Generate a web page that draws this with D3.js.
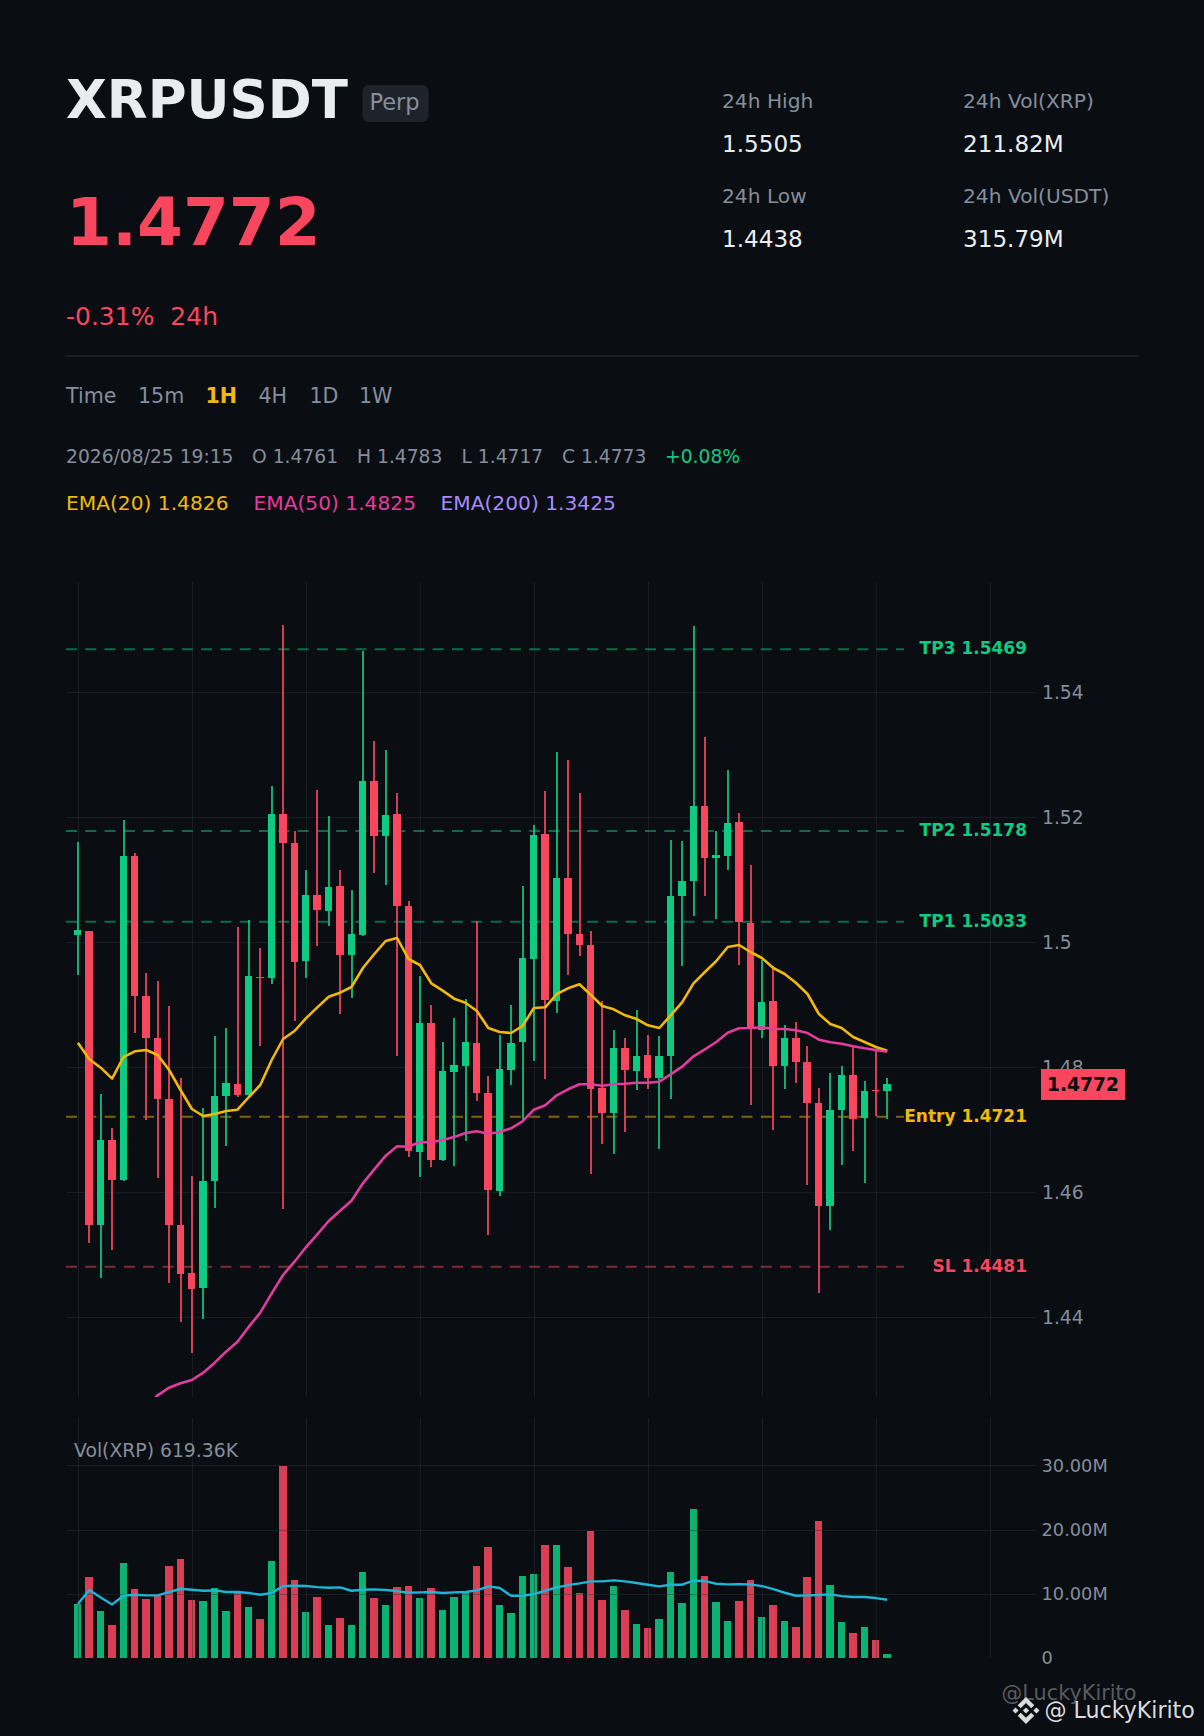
<!doctype html>
<html lang="en">

<head>
    <meta charset="utf-8" />
    <title>XRPUSDT</title>
    <script src="https://d3js.org/d3.v7.min.js"></script>
    <style>
        html, body { margin: 0; padding: 0; background: #0a0d11; }
        svg { display: block; }
        text { font-family: "DejaVu Sans", sans-serif; }
    </style>
</head>

<body>
    <div id="graph-container"></div>
    <script>
        const open = [1.50117, 1.50181, 1.45477, 1.46837, 1.46197, 1.51381, 1.49141, 1.48469, 1.47493, 1.45477,
            1.44709, 1.44469, 1.46181, 1.47541, 1.47733, 1.47557, 1.49445, 1.49429, 1.52053, 1.51589,
            1.49701, 1.50757, 1.50501, 1.50901, 1.49797, 1.50117, 1.52581, 1.51701, 1.52053, 1.50581,
            1.46645, 1.48709, 1.46517, 1.47925, 1.48021, 1.48389, 1.47589, 1.46021, 1.47957, 1.48405,
            1.49733, 1.51733, 1.49061, 1.51029, 1.50133, 1.49957, 1.47669, 1.47269, 1.48309, 1.47941,
            1.48197, 1.47829, 1.48181, 1.50741, 1.50981, 1.52181, 1.51349, 1.51381, 1.51925, 1.50309,
            1.48597, 1.49061, 1.48021, 1.48469, 1.48085, 1.47429, 1.45781, 1.47317, 1.47877, 1.47189,
            1.47632, 1.47621]
        const high = [1.51605, 1.50181, 1.47573, 1.47029, 1.51957, 1.51429, 1.49509, 1.49381, 1.48981, 1.47829,
            1.46261, 1.47349, 1.48501, 1.48629, 1.50245, 1.50357, 1.49909, 1.52501, 1.55077, 1.51781,
            1.51157, 1.52437, 1.52021, 1.51157, 1.50837, 1.54661, 1.53221, 1.53077, 1.52389, 1.50661,
            1.49461, 1.48997, 1.48405, 1.48789, 1.49093, 1.50341, 1.47861, 1.48517, 1.48997, 1.50901,
            1.51877, 1.52421, 1.53045, 1.52917, 1.52389, 1.50181, 1.49061, 1.48597, 1.48469, 1.48917,
            1.48517, 1.48501, 1.51637, 1.51621, 1.55061, 1.53285, 1.51781, 1.52757, 1.52069, 1.51237,
            1.49717, 1.49621, 1.48677, 1.48725, 1.48341, 1.47669, 1.47909, 1.48021, 1.48341, 1.47781,
            1.48261, 1.47829]
        const low = [1.49477, 1.45189, 1.44629, 1.45077, 1.46181, 1.48549, 1.47157, 1.46229, 1.44549, 1.43925,
            1.43429, 1.43973, 1.45749, 1.46741, 1.47525, 1.47557, 1.48341, 1.49333, 1.45733, 1.48741,
            1.49429, 1.49941, 1.50261, 1.48853, 1.49109, 1.50101, 1.51109, 1.50917, 1.48181, 1.46565,
            1.46245, 1.46405, 1.46501, 1.46421, 1.46821, 1.47461, 1.45317, 1.45941, 1.47717, 1.47157,
            1.48101, 1.47813, 1.48869, 1.49477, 1.49781, 1.46293, 1.46773, 1.46613, 1.46965, 1.47637,
            1.47653, 1.46693, 1.47493, 1.49621, 1.50421, 1.50741, 1.50373, 1.51157, 1.49637, 1.47397,
            1.48469, 1.47000, 1.47653, 1.47749, 1.46117, 1.44389, 1.45397, 1.46437, 1.46661, 1.46149,
            1.47221, 1.47173]
        const close = [1.50197, 1.45477, 1.46837, 1.46197, 1.51381, 1.49141, 1.48469, 1.47493, 1.45477, 1.44693,
            1.44453, 1.46181, 1.47541, 1.47749, 1.47557, 1.49461, 1.49437, 1.52053, 1.51589, 1.49685,
            1.50757, 1.50517, 1.50885, 1.49797, 1.50133, 1.52581, 1.51701, 1.52037, 1.50581, 1.46661,
            1.48709, 1.46517, 1.47941, 1.48037, 1.48405, 1.47589, 1.46037, 1.47973, 1.48389, 1.49749,
            1.51717, 1.49077, 1.51029, 1.50133, 1.49957, 1.47653, 1.47269, 1.48309, 1.47957, 1.48181,
            1.47829, 1.48181, 1.50741, 1.50981, 1.52181, 1.51349, 1.51397, 1.51909, 1.50325, 1.48629,
            1.49045, 1.48021, 1.48469, 1.48085, 1.47429, 1.45781, 1.47317, 1.47877, 1.47173, 1.47621,
            1.47621, 1.47733]
        const ema20 = [1.48394, 1.48128, 1.47994, 1.47818, 1.48165, 1.48256, 1.48277, 1.48197, 1.47957, 1.47637,
            1.47333, 1.47221, 1.47253, 1.47301, 1.47322, 1.47525, 1.47717, 1.48117, 1.48453, 1.48581,
            1.48784, 1.48960, 1.49130, 1.49194, 1.49285, 1.49589, 1.49813, 1.50021, 1.50069, 1.49733,
            1.49637, 1.49344, 1.49226, 1.49098, 1.49034, 1.48901, 1.48629, 1.48565, 1.48549, 1.48661,
            1.48949, 1.48960, 1.49173, 1.49264, 1.49328, 1.49157, 1.48981, 1.48928, 1.48832, 1.48773,
            1.48672, 1.48629, 1.48832, 1.49040, 1.49344, 1.49525, 1.49701, 1.49925, 1.49957, 1.49845,
            1.49749, 1.49589, 1.49493, 1.49349, 1.49173, 1.48853, 1.48693, 1.48629, 1.48485, 1.48405,
            1.48325, 1.48266]
        // first candles of the EMA(50) are under the visible range
        const ema50 = [null, null, null, null, null, null, 1.42581, 1.42752, 1.42874, 1.42944,
            1.42997, 1.43114, 1.43274, 1.43450, 1.43610, 1.43850, 1.44074, 1.44384, 1.44677, 1.44890,
            1.45120, 1.45328, 1.45541, 1.45706, 1.45866, 1.46144, 1.46368, 1.46586, 1.46736, 1.46730,
            1.46805, 1.46800, 1.46837, 1.46885, 1.46949, 1.46976, 1.46938, 1.46965, 1.47024, 1.47136,
            1.47322, 1.47392, 1.47552, 1.47648, 1.47728, 1.47728, 1.47706, 1.47728, 1.47738, 1.47754,
            1.47754, 1.47770, 1.47888, 1.48010, 1.48176, 1.48288, 1.48405, 1.48554, 1.48624, 1.48629,
            1.48640, 1.48618, 1.48613, 1.48592, 1.48549, 1.48442, 1.48400, 1.48378, 1.48336, 1.48304,
            1.48277, 1.48250]
        const volume = [8.4, 12.6, 7.3, 5.1, 14.8, 10.7, 9.2, 9.65, 14.3, 15.4,
            9.0, 8.9, 10.9, 7.3, 10.3, 7.9, 6.1, 15.1, 29.9, 12.1,
            7.2, 9.5, 5.1, 6.2, 5.1, 13.4, 9.3, 8.25, 11.05, 11.2,
            9.3, 10.9, 7.5, 9.5, 10.3, 14.3, 17.3, 8.25, 7.0, 12.8,
            13.1, 17.6, 17.6, 14.2, 10.1, 19.8, 9.0, 11.2, 7.5, 5.3,
            4.7, 6.1, 13.4, 8.6, 23.2, 12.8, 8.7, 5.8, 8.9, 12.1,
            6.4, 8.25, 5.8, 4.8, 12.6, 21.3, 11.4, 5.6, 3.9, 4.8,
            2.8, 0.62]
        const volumeMa = [8.41, 10.59, 9.44, 8.35, 9.70, 9.86, 9.76, 9.76, 10.28, 10.79,
            10.64, 10.48, 10.53, 10.28, 10.28, 10.12, 9.86, 10.12, 11.21, 11.26,
            11.21, 11.05, 10.95, 11.00, 10.48, 10.64, 10.69, 10.59, 10.43, 10.17,
            10.22, 10.28, 10.12, 10.22, 10.28, 10.53, 11.16, 10.90, 9.70, 9.70,
            9.96, 10.48, 11.00, 11.36, 11.62, 11.94, 11.94, 12.09, 11.94, 11.68,
            11.42, 11.16, 11.42, 11.42, 12.04, 11.99, 11.57, 11.47, 11.52, 11.47,
            11.21, 10.74, 10.17, 9.70, 9.76, 9.81, 9.91, 9.65, 9.50, 9.50,
            9.34, 9.08]

        const priceTicks = [1.54, 1.52, 1.5, 1.48, 1.46, 1.44]
        const volumeTicks = [0, 10, 20, 30]
        const xGridCandles = [0, 10, 20, 30, 40, 50, 60, 70, 80]

        const levelNames = ["TP3", "TP2", "TP1", "Entry", "SL"]
        const levelPrices = [1.5469, 1.5178, 1.5033, 1.4721, 1.4481]
        const lastPrice = 1.4772

        const GREEN = "#0ecb81"
        const RED = "#f8465e"
        const GOLD = "#f0b90b"
        const PINK = "#e23d9d"
        const PURPLE = "#a78bfa"
        const CYAN = "#1fb5d6"
        const MUTED = "#848e9c"
        const BRIGHT = "#eaecef"
        const levelColors = [GREEN, GREEN, GREEN, GOLD, RED]

        const svg = d3.select("#graph-container")
            .append("svg")
            .attr("width", 1204)
            .attr("height", 1736)

        svg.append("rect").attr("width", 1204).attr("height", 1736).attr("fill", "#0a0d11")

        function label(txt, x, y, size, color, weight, anchor) {
            return svg.append("text")
                .attr("x", x)
                .attr("y", y)
                .attr("font-size", size)
                .attr("font-weight", weight || "normal")
                .attr("text-anchor", anchor || "start")
                .attr("fill", color)
                .text(txt)
        }

        // header
        label("XRPUSDT", 66, 118, 53, BRIGHT, "bold")
        svg.append("rect").attr("x", 362.5).attr("y", 85).attr("width", 66).attr("height", 37)
            .attr("rx", 6).attr("fill", "#1e2229")
        label("Perp", 369.5, 109.5, 22.5, MUTED)
        label("1.4772", 66, 245, 66, RED, "bold")
        label("-0.31%  24h", 66, 325, 25, RED).style("white-space", "pre")

        label("24h High", 722, 107.5, 20.2, MUTED)
        label("1.5505", 722, 151.5, 23.1, BRIGHT)
        label("24h Low", 722, 203, 20.2, MUTED)
        label("1.4438", 722, 246.5, 23.1, BRIGHT)
        label("24h Vol(XRP)", 963, 107.5, 20.2, MUTED)
        label("211.82M", 963, 151.5, 23.1, BRIGHT)
        label("24h Vol(USDT)", 963, 203, 20.2, MUTED)
        label("315.79M", 963, 246.5, 23.1, BRIGHT)

        svg.append("line").attr("x1", 66).attr("x2", 1139).attr("y1", 356).attr("y2", 356)
            .attr("stroke", "#1f242c").attr("stroke-width", 1.5)

        label("Time", 66, 403, 20.6, MUTED)
        label("15m", 138, 403, 20.6, MUTED)
        label("1H", 205.5, 403, 20.6, GOLD, "bold")
        label("4H", 258.5, 403, 20.6, MUTED)
        label("1D", 309.5, 403, 20.6, MUTED)
        label("1W", 359, 403, 20.6, MUTED)

        label("2026/08/25 19:15", 66, 463, 18.7, MUTED)
        label("O 1.4761", 252, 463, 18.7, MUTED)
        label("H 1.4783", 357, 463, 18.7, MUTED)
        label("L 1.4717", 461.5, 463, 18.7, MUTED)
        label("C 1.4773", 562, 463, 18.7, MUTED)
        label("+0.08%", 665, 463, 18.7, GREEN)

        label("EMA(20) 1.4826", 66, 510, 20.2, GOLD)
        label("EMA(50) 1.4825", 253.5, 510, 20.2, PINK)
        label("EMA(200) 1.3425", 440.5, 510, 20.2, PURPLE)

        // scales
        const x = d3.scaleLinear().domain([-1, 84]).range([66.5, 1035.5])
        const y = d3.scaleLinear().domain([1.42725, 1.55765]).range([1397, 582])
        const yVol = d3.scaleLinear().domain([0, 37.4]).range([1658, 1418])

        const candles = d3.range(open.length)

        svg.append("clipPath").attr("id", "plot")
            .append("rect").attr("x", 66.5).attr("y", 582).attr("width", 969).attr("height", 815)

        function crisp(v) { return Math.round(v) + 0.5 }

        function grid(parent, scale, ticks, top, bottom, stroke, opacity) {
            const g = parent.append("g").attr("stroke", stroke).attr("stroke-opacity", opacity)
            g.selectAll("line.h").data(ticks).enter().append("line")
                .attr("x1", 66.5).attr("x2", 1035.5)
                .attr("y1", d => crisp(scale(d))).attr("y2", d => crisp(scale(d)))
            g.selectAll("line.v").data(xGridCandles).enter().append("line")
                .attr("x1", d => crisp(x(d))).attr("x2", d => crisp(x(d)))
                .attr("y1", top).attr("y2", bottom)
        }

        // price pane
        grid(svg, y, priceTicks, 582, 1397, "#2b3139", 0.45)

        const levels = svg.append("g")
        levels.selectAll("line").data(levelPrices).enter().append("line")
            .attr("x1", 66).attr("x2", 904)
            .attr("y1", d => y(d)).attr("y2", d => y(d))
            .attr("stroke", (d, i) => levelColors[i])
            .attr("stroke-width", 2)
            .attr("stroke-opacity", 0.5)
            .attr("stroke-dasharray", "11 8.3")
        levels.selectAll("text").data(levelPrices).enter().append("text")
            .attr("x", 1027)
            .attr("y", d => y(d) + 5)
            .attr("text-anchor", "end")
            .attr("font-size", 17)
            .attr("font-weight", "bold")
            .attr("fill", (d, i) => levelColors[i])
            .text((d, i) => levelNames[i] + " " + d.toFixed(4))

        const candleColor = i => close[i] >= open[i] ? GREEN : RED

        const marks = svg.append("g").attr("shape-rendering", "crispEdges")
        marks.selectAll("rect.wick").data(candles).enter().append("rect")
            .attr("class", "wick")
            .attr("x", i => Math.round(x(i) - 1))
            .attr("width", 2)
            .attr("y", i => Math.round(y(high[i])))
            .attr("height", i => Math.round(y(low[i])) - Math.round(y(high[i])))
            .attr("fill", candleColor)
            .attr("fill-opacity", 0.85)
        marks.selectAll("rect.body").data(candles).enter().append("rect")
            .attr("class", "body")
            .attr("x", i => Math.floor(x(i) - 3.5))
            .attr("width", i => Math.round(x(i) + 3.5) - Math.floor(x(i) - 3.5))
            .attr("y", i => Math.round(y(Math.max(open[i], close[i]))))
            .attr("height", i => Math.max(1, Math.round(y(Math.min(open[i], close[i]))) - Math.round(y(Math.max(open[i], close[i])))))
            .attr("fill", candleColor)

        const priceLine = d3.line()
            .defined(d => d !== null)
            .x((d, i) => x(i))
            .y(d => y(d))

        const emas = svg.append("g").attr("clip-path", "url(#plot)").attr("fill", "none")
            .attr("stroke-width", 2.6).attr("stroke-linejoin", "round")
        emas.append("path").attr("d", priceLine(ema20)).attr("stroke", GOLD)
        emas.append("path").attr("d", priceLine(ema50)).attr("stroke", PINK)

        const priceAxis = d3.axisRight(y)
            .tickValues(priceTicks)
            .tickFormat(d => String(+d.toFixed(2)))
            .tickSize(0)
            .tickPadding(0)
        const priceAxisG = svg.append("g").attr("transform", "translate(1042,0)").call(priceAxis)
        priceAxisG.select(".domain").remove()
        priceAxisG.selectAll("text")
            .attr("font-size", 18.7)
            .attr("font-family", "DejaVu Sans")
            .attr("fill", MUTED)

        // last price tag
        svg.append("rect").attr("x", 1041).attr("y", 1069).attr("width", 84).attr("height", 31).attr("fill", RED)
        label(lastPrice.toFixed(4), 1083, y(lastPrice) + 6, 18.6, "#0b0e11", "bold", "middle")

        // volume pane
        svg.append("g").selectAll("rect").data(candles).enter().append("rect")
            .attr("shape-rendering", "crispEdges")
            .attr("x", i => Math.floor(x(i) - 3.5))
            .attr("width", i => Math.round(x(i) + 3.5) - Math.floor(x(i) - 3.5))
            .attr("y", i => yVol(volume[i]))
            .attr("height", i => yVol(0) - yVol(volume[i]))
            .attr("fill", candleColor)
            .attr("fill-opacity", 0.87)

        grid(svg, yVol, volumeTicks.slice(1), 1418, 1658, "#2b3139", 0.45)

        const volLine = d3.line().x((d, i) => x(i)).y(d => yVol(d))
        svg.append("path").attr("d", volLine(volumeMa))
            .attr("fill", "none").attr("stroke", CYAN).attr("stroke-width", 2.4).attr("stroke-linejoin", "round")

        const volAxis = d3.axisRight(yVol)
            .tickValues(volumeTicks)
            .tickFormat(d => d === 0 ? "0" : d.toFixed(2) + "M")
            .tickSize(0)
            .tickPadding(0)
        const volAxisG = svg.append("g").attr("transform", "translate(1041.5,0)").call(volAxis)
        volAxisG.select(".domain").remove()
        volAxisG.selectAll("text")
            .attr("font-size", 17.8)
            .attr("font-family", "DejaVu Sans")
            .attr("fill", MUTED)

        label("Vol(XRP) 619.36K", 74, 1457, 18.8, MUTED)

        // watermarks
        label("@LuckyKirito", 1001.5, 1700, 20.8, "#8a8f96").attr("fill-opacity", 0.62)
        label("@ LuckyKirito", 1044.5, 1718, 22.1, "#dcdcdc")
        const logo = svg.append("g").attr("transform", "translate(1012.5,1697) scale(0.213)").attr("fill", "#dcdcdc")
        logo.append("path").attr("d", "M38.73 53.2l24.59-24.58 24.6 24.6 14.3-14.31L63.32 0 24.42 38.9l14.31 14.3z")
        logo.append("path").attr("d", "M0 63.31l14.3-14.31 14.31 14.31-14.31 14.3z")
        logo.append("path").attr("d", "M38.73 73.41l24.59 24.59 24.6-24.6 14.31 14.29-38.9 38.91-38.91-38.88-.02-.02z")
        logo.append("path").attr("d", "M97.99 63.31l14.3-14.31 14.32 14.31-14.31 14.3z")
        logo.append("path").attr("d", "M77.83 63.3L63.32 48.78 48.81 63.28l14.51 14.5 14.51-14.48z")
    </script>
</body>

</html>
